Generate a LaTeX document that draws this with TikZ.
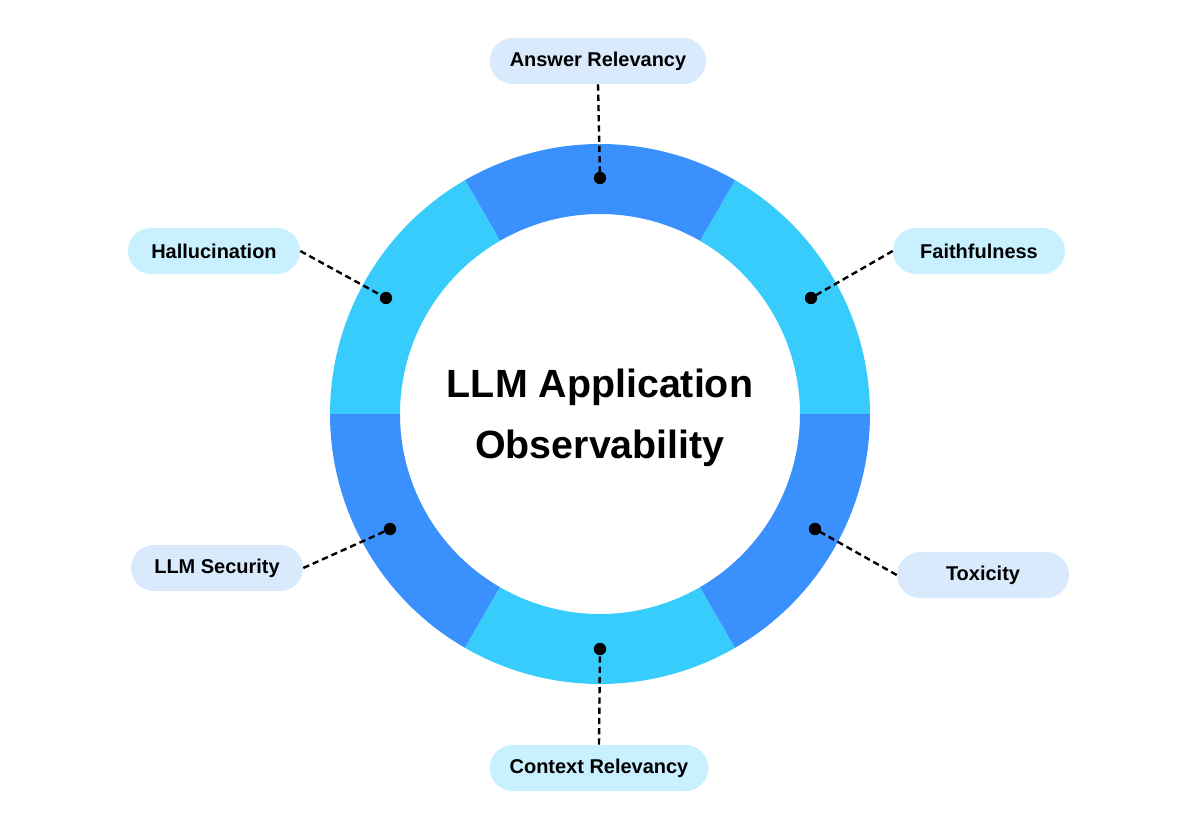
\documentclass[tikz,border=0pt]{standalone}
\usepackage{fontspec}
\setmainfont{Liberation Sans}
\definecolor{ringdark}{HTML}{3A90FC}
\definecolor{ringlight}{HTML}{38CCFD}
\definecolor{pillblue}{HTML}{DAEAFD}
\definecolor{pillcyan}{HTML}{C8F0FE}
\begin{document}
\begin{tikzpicture}
		[x=0.025cm, y=0.025cm,
		pill/.style={rounded corners=0.575cm, minimum height=1.15cm, minimum width=4.3cm, inner xsep=0.5cm, font=\fontsize{14.2}{16}\selectfont\bfseries},
		dot/.style={circle, fill=black, inner sep=0pt, minimum size=0.31cm},
		link/.style={dash pattern=on 4.5pt off 2.8pt, line width=1.7pt}]
		\useasboundingbox (-600,-414) rectangle (600,414);
		
		% ring of six segments
		\foreach \a/\c in {0/ringlight, 60/ringdark, 120/ringlight, 180/ringdark, 240/ringlight, 300/ringdark}
		\fill[\c] (\a:270) arc[start angle=\a, end angle=\a+60, radius=270] -- (\a+60:200) arc[start angle=\a+60, end angle=\a, radius=200] -- cycle;
		
		\node[font=\fontsize{28}{43}\selectfont\bfseries, align=center] (title) at (0,-4) {LLM Application\\Observability};
		
		\node[pill, fill=pillblue] (ans) at (-2,353) {Answer Relevancy};
		\node[pill, fill=pillcyan] (hall) at (-386,163) {Hallucination};
		\node[pill, fill=pillcyan] (faith) at (379,163) {Faithfulness};
		\node[pill, fill=pillblue] (sec) at (-383,-154) {LLM Security};
		\node[pill, fill=pillblue] (tox) at (383,-161) {Toxicity};
		\node[pill, fill=pillcyan] (ctx) at (-1,-354) {Context Relevancy};
		
		\coordinate (ansdot) at (0,236);
		\coordinate (halldot) at (-214,116);
		\coordinate (faithdot) at (211,116);
		\coordinate (secdot) at (-210,-115);
		\coordinate (toxdot) at (215,-115);
		\coordinate (ctxdot) at (0,-235);
		
		\path[link] (ans.south) edge (ansdot)
		(hall.east) edge (halldot)
		(faith.west) edge (faithdot)
		(sec.east) edge (secdot)
		(tox.west) edge (toxdot)
		(ctx.north) edge (ctxdot);
		
		\foreach \d in {ansdot, halldot, faithdot, secdot, toxdot, ctxdot}
		\node[dot] at (\d) {};
\end{tikzpicture}
\end{document}
